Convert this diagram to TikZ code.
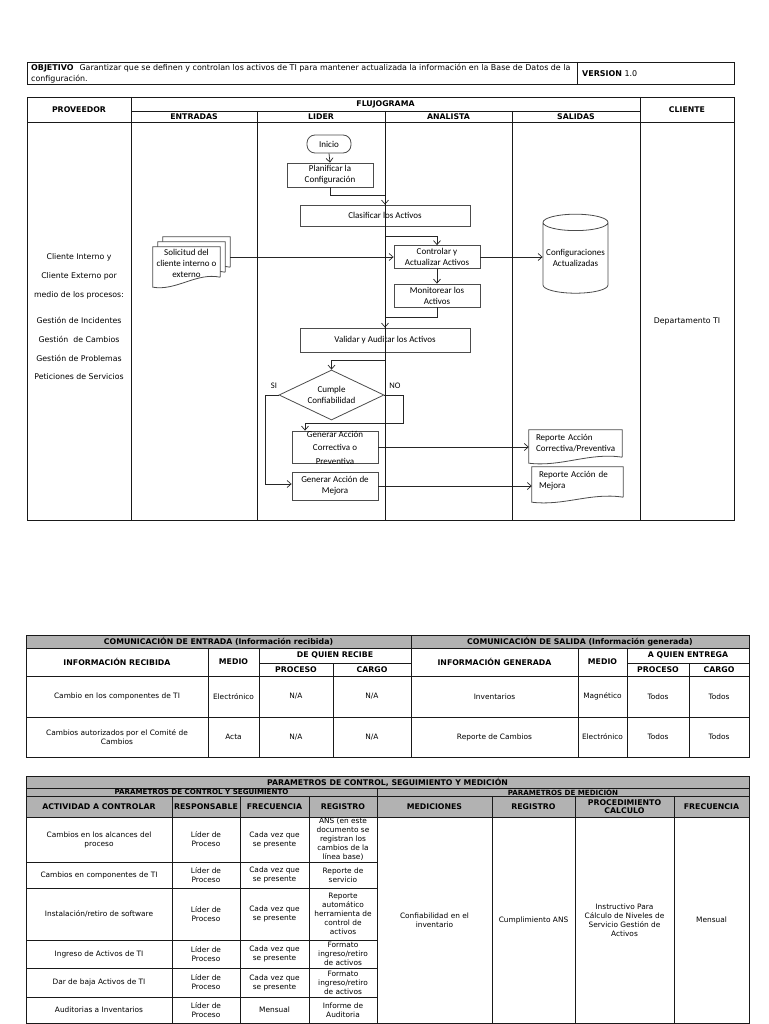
\documentclass[tikz,border=0pt]{standalone}
\usepackage{fontspec}
\setmainfont{DejaVu Sans}
\newfontfamily\flowfont{Carlito}
\usetikzlibrary{arrows.meta,shapes.geometric,calc}
\definecolor{hdrgray}{RGB}{178,178,178}
\definecolor{lineclr}{RGB}{25,25,25}
\newcommand\docoutline[5]{%
  \draw[docline] ($(#1.south east)+(#2,#3)$) -- ($(#1.north east)+(#2,#3)$) -- ($(#1.north west)+(#2,#3)$) -- ($(#1.south west)+(#2,#3)+(0,#5)$)
   .. controls ($(#1.south west)+(#2,#3)+({0.35*#4},{#5+4})$) and ($(#1.south west)+(#2,#3)+({0.65*#4},-5)$) .. ($(#1.south east)+(#2,#3)$);}
\begin{document}
\begin{tikzpicture}[x=1pt,y=-1pt,
  tb/.style={font=\fontsize{7.4}{9}\selectfont, align=center, inner sep=0pt},
  th/.style={font=\bfseries\fontsize{7.8}{8.6}\selectfont, align=center, inner sep=0pt},
  thsmall/.style={font=\bfseries\fontsize{7.1}{8}\selectfont, align=center, inner sep=0pt},
  topt/.style={font=\fontsize{7.95}{9}\selectfont, inner sep=0pt},
  pv/.style={font=\fontsize{7.8}{9}\selectfont, inner sep=0pt},
  grid/.style={draw=lineclr, line width=0.8pt},
  fbox/.style={draw=black!70, line width=0.8pt, fill=white, font=\flowfont\fontsize{9}{11}\selectfont, align=center, inner sep=0pt},
  ftxt/.style={font=\flowfont\fontsize{9}{11}\selectfont, inner sep=0pt},
  docline/.style={draw=black!70, line width=0.8pt, fill=white},
  arr/.style={draw=black!85, line width=0.7pt, -{Straight Barb[length=4pt,width=7pt]}},
  lbl/.style={font=\flowfont\fontsize{8.5}{10}\selectfont, inner sep=0pt},
]
\fill[white] (0,0) rectangle (768,1024);
\path[use as bounding box] (0,0) rectangle (768,1024);

% ---------------- top box ----------------
\draw[grid] (27,62) rectangle (734,84);
\draw[grid] (577,62) -- (577,84);
\node[topt, anchor=west] (obj1) at (31,68) {\textbf{OBJETIVO}\hspace{6pt}Garantizar que se definen y controlan los activos de TI para mantener actualizada la información en la Base de Datos de la};
\node[topt, anchor=west] (obj2) at (31,79) {configuración.};
\node[topt, anchor=west] (ver) at (582,74) {\textbf{VERSION} 1.0};

% ---------------- main table ----------------
\draw[grid] (27,97) rectangle (734,520);
\draw[grid] (131,111) -- (640,111);
\draw[grid] (27,122) -- (734,122);
\node[th] (hprov) at (79,109.5) {PROVEEDOR};
\node[th] (hflujo) at (385.5,104) {FLUJOGRAMA};
\node[th] (hent) at (194,116.5) {ENTRADAS};
\node[th] (hlid) at (321,116.5) {LIDER};
\node[th] (hana) at (448.5,116.5) {ANALISTA};
\node[th] (hsal) at (576,116.5) {SALIDAS};
\node[th] (hcli) at (687,109.5) {CLIENTE};

\node[pv] (p1) at (79,257) {Cliente Interno y};
\node[pv] (p2) at (79,276) {Cliente Externo por};
\node[pv] (p3) at (79,295) {medio de los procesos:};
\node[pv] (p4) at (79,320) {Gestión de Incidentes};
\node[pv] (p5) at (79,339) {Gestión\ \ de Cambios};
\node[pv] (p6) at (79,358) {Gestión de Problemas};
\node[pv] (p7) at (79,377) {Peticiones de Servicios};
\node[pv] (dep) at (687,321) {Departamento TI};

% ---------------- flowchart ----------------
\node[fbox, rounded corners=8pt, minimum width=44pt, minimum height=18pt] (inicio) at (329,144) {Inicio};
\node[fbox, minimum width=86pt, minimum height=24pt] (plan) at (330,175) {Planificar la\\Configuración};
\node[fbox, minimum width=170pt, minimum height=21pt] (clas) at (385,215.5) {Clasificar los Activos};
\node[fbox, minimum width=86pt, minimum height=23pt] (ctrl) at (437,257) {Controlar y\\Actualizar Activos};
\node[fbox, minimum width=86pt, minimum height=23pt] (moni) at (437,295.5) {Monitorear los\\Activos};
\node[fbox, minimum width=170pt, minimum height=24pt] (vali) at (385,340) {Validar y Auditar los Activos};
\node[fbox, diamond, shape aspect=2.1, minimum width=105pt, minimum height=50pt] (dec) at (331.5,395) {Cumple\\Confiabilidad};
\node[fbox, minimum width=86pt, minimum height=32pt] (corr) at (335,447) {};
\node[ftxt, align=center, font=\flowfont\fontsize{9}{13.5}\selectfont] (corrt) at (335,447.5) {Generar Acción\\Correctiva o\\Preventiva};
\node[fbox, minimum width=86pt, minimum height=28pt] (mejo) at (335,486) {Generar Acción de\\Mejora};

% documents
\node[ftxt, minimum width=67pt, minimum height=30pt, align=center] (sol) at (186.5,262) {};
\docoutline{sol}{10}{-10}{67}{10}
\docoutline{sol}{5}{-5}{67}{10}
\docoutline{sol}{0}{0}{67}{10}
\node[ftxt, align=center] (solt) at (186.5,263.5) {Solicitud del\\cliente interno o\\externo};

\node[ftxt, minimum width=93pt, minimum height=27pt, text width=79pt, align=left] (rep1) at (575.5,443.5) {};
\docoutline{rep1}{0}{0}{93}{6}
\node[ftxt, text width=79pt, align=left] (rep1t) at (575.5,443.5) {Reporte Acción\\Correctiva/Preventiva};
\node[ftxt, minimum width=91pt, minimum height=30pt, text width=77pt, align=left] (rep2) at (577.5,482) {};
\docoutline{rep2}{0}{0}{91}{5}
\node[ftxt, text width=77pt, align=left] (rep2t) at (577.5,480.5) {Reporte Acción de\\Mejora};

\node[draw=black!70, line width=0.8pt, fill=white, cylinder, shape border rotate=90, aspect=0.28, minimum width=65pt, minimum height=79pt, ftxt, align=center] (db) at (575.5,258) {Configuraciones\\Actualizadas};

% connectors
\draw[arr] (inicio.south) -- (plan.north);
\draw[arr] (plan.south) -- ++(0,8) -| (clas.north);
\draw[arr] (clas.south) -- ++(0,10) -| (ctrl.north);
\draw[arr] (ctrl.south) -- (moni.north);
\draw[arr] (moni.south) -- ++(0,10) -| (vali.north);
\draw[arr] (vali.south) -- ++(0,8) -| (dec.north);
\coordinate (siA) at (265,484);
\draw[arr] (dec.west) -| (siA) -- (siA -| mejo.west);
\coordinate (noA) at (403,423);
\draw[arr] (dec.east) -| (noA) -| ([xshift=-30pt]corr.north);
\draw[arr] (corr.east) -- (corr.east -| rep1.west);
\draw[arr] (mejo.east) -- (mejo.east -| rep2.west);
\draw[arr] ($(sol.east)+(10,-5)$) -- (ctrl.west);
\draw[arr] (ctrl.east) -- (ctrl.east -| db.west);
\node[lbl] (si) at (274,386) {SI};
\node[lbl] (no) at (395,386) {NO};

% lane lines on top
\draw[grid] (131,97) -- (131,520);
\draw[grid] (640,97) -- (640,520);
\foreach \x in {257,385,512} \draw[grid] (\x,111) -- (\x,520);

% ---------------- communication table ----------------
\fill[hdrgray] (26,635) rectangle (749,648);
\draw[grid] (26,635) rectangle (749,757);
\draw[grid] (26,648) -- (749,648);
\draw[grid] (259,663) -- (411,663);
\draw[grid] (627,663) -- (749,663);
\draw[grid] (26,676) -- (749,676);
\draw[grid] (26,717) -- (749,717);
\draw[grid] (411,635) -- (411,757);
\foreach \x in {208,259,578,627} \draw[grid] (\x,648) -- (\x,757);
\foreach \x in {333,689} \draw[grid] (\x,663) -- (\x,757);

\node[th] (ce0) at (218.5,641.5) {COMUNICACIÓN DE ENTRADA (Información recibida)};
\node[th] (cs0) at (580,641.5) {COMUNICACIÓN DE SALIDA (Información generada)};
\node[th] (ce1) at (117,662) {INFORMACIÓN RECIBIDA};
\node[th] (ce2) at (233.5,662) {MEDIO};
\node[th] (ce3) at (335,655.5) {DE QUIEN RECIBE};
\node[th] (ce4) at (296,669.5) {PROCESO};
\node[th] (ce5) at (372,669.5) {CARGO};
\node[th] (cs1) at (494.5,662) {INFORMACIÓN GENERADA};
\node[th] (cs2) at (602.5,662) {MEDIO};
\node[th] (cs3) at (688,655.5) {A QUIEN ENTREGA};
\node[th] (cs4) at (658,669.5) {PROCESO};
\node[th] (cs5) at (719,669.5) {CARGO};

\node[tb] (r1a) at (117,696.5) {Cambio en los componentes de TI};
\node[tb] (r1b) at (233.5,696.5) {Electrónico};
\node[tb] (r1c) at (296,696.5) {N/A};
\node[tb] (r1d) at (372,696.5) {N/A};
\node[tb] (r1e) at (494.5,696.5) {Inventarios};
\node[tb] (r1f) at (602.5,696.5) {Magnético};
\node[tb] (r1g) at (658,696.5) {Todos};
\node[tb] (r1h) at (719,696.5) {Todos};
\node[tb] (r2a) at (117,737) {Cambios autorizados por el Comité de\\Cambios};
\node[tb] (r2b) at (233.5,737) {Acta};
\node[tb] (r2c) at (296,737) {N/A};
\node[tb] (r2d) at (372,737) {N/A};
\node[tb] (r2e) at (494.5,737) {Reporte de Cambios};
\node[tb] (r2f) at (602.5,737) {Electrónico};
\node[tb] (r2g) at (658,737) {Todos};
\node[tb] (r2h) at (719,737) {Todos};

% ---------------- parameters table ----------------
\fill[hdrgray] (26,776) rectangle (749,817);
\draw[grid] (26,776) rectangle (749,1023);
\foreach \y in {788,796,817} \draw[grid] (26,\y) -- (749,\y);
\foreach \y in {862,888,940,968,997} \draw[grid] (26,\y) -- (377,\y);
\draw[grid] (377,788) -- (377,1023);
\foreach \x in {172,240,309,492,575,674} \draw[grid] (\x,796) -- (\x,1023);

\node[th] (pt0) at (387.5,782) {PARAMETROS DE CONTROL, SEGUIMIENTO Y MEDICIÓN};
\node[thsmall] (pt1) at (201.5,792.2) {PARAMETROS DE CONTROL Y SEGUIMIENTO};
\node[thsmall] (pt2) at (563,792.2) {PARAMETROS DE MEDICIÓN};
\node[th] (ph1) at (99,806.5) {ACTIVIDAD A CONTROLAR};
\node[th] (ph2) at (206,806.5) {RESPONSABLE};
\node[th] (ph3) at (274.5,806.5) {FRECUENCIA};
\node[th] (ph4) at (343,806.5) {REGISTRO};
\node[th] (ph5) at (434.5,806.5) {MEDICIONES};
\node[th] (ph6) at (533.5,806.5) {REGISTRO};
\node[th] (ph7) at (624.5,806.5) {PROCEDIMIENTO\\CALCULO};
\node[th] (ph8) at (711.5,806.5) {FRECUENCIA};

\node[tb] (a1) at (99,839.5) {Cambios en los alcances del\\proceso};
\node[tb] (a2) at (206,839.5) {Líder de\\Proceso};
\node[tb] (a3) at (274.5,839.5) {Cada vez que\\se presente};
\node[tb] (a4) at (343,839.5) {ANS (en este\\documento se\\registran los\\cambios de la\\línea base)};
\node[tb] (b1) at (99,875) {Cambios en componentes de TI};
\node[tb] (b2) at (206,875) {Líder de\\Proceso};
\node[tb] (b3) at (274.5,875) {Cada vez que\\se presente};
\node[tb] (b4) at (343,875) {Reporte de\\servicio};
\node[tb] (c1) at (99,914) {Instalación/retiro de software};
\node[tb] (c2) at (206,914) {Líder de\\Proceso};
\node[tb] (c3) at (274.5,914) {Cada vez que\\se presente};
\node[tb] (c4) at (343,914) {Reporte\\automático\\herramienta de\\control de\\activos};
\node[tb] (d1) at (99,954) {Ingreso de Activos de TI};
\node[tb] (d2) at (206,954) {Líder de\\Proceso};
\node[tb] (d3) at (274.5,954) {Cada vez que\\se presente};
\node[tb] (d4) at (343,954) {Formato\\ingreso/retiro\\de activos};
\node[tb] (e1) at (99,982.5) {Dar de baja Activos de TI};
\node[tb] (e2) at (206,982.5) {Líder de\\Proceso};
\node[tb] (e3) at (274.5,982.5) {Cada vez que\\se presente};
\node[tb] (e4) at (343,982.5) {Formato\\ingreso/retiro\\de activos};
\node[tb] (f1) at (99,1010) {Auditorias a Inventarios};
\node[tb] (f2) at (206,1010) {Líder de\\Proceso};
\node[tb] (f3) at (274.5,1010) {Mensual};
\node[tb] (f4) at (343,1010) {Informe de\\Auditoria};

\node[tb] (m1) at (434.5,920) {Confiabilidad en el\\inventario};
\node[tb] (m2) at (533.5,920) {Cumplimiento ANS};
\node[tb] (m3) at (624.5,920) {Instructivo Para\\Cálculo de Niveles de\\Servicio Gestión de\\Activos};
\node[tb] (m4) at (711.5,920) {Mensual};
\end{tikzpicture}
\end{document}
